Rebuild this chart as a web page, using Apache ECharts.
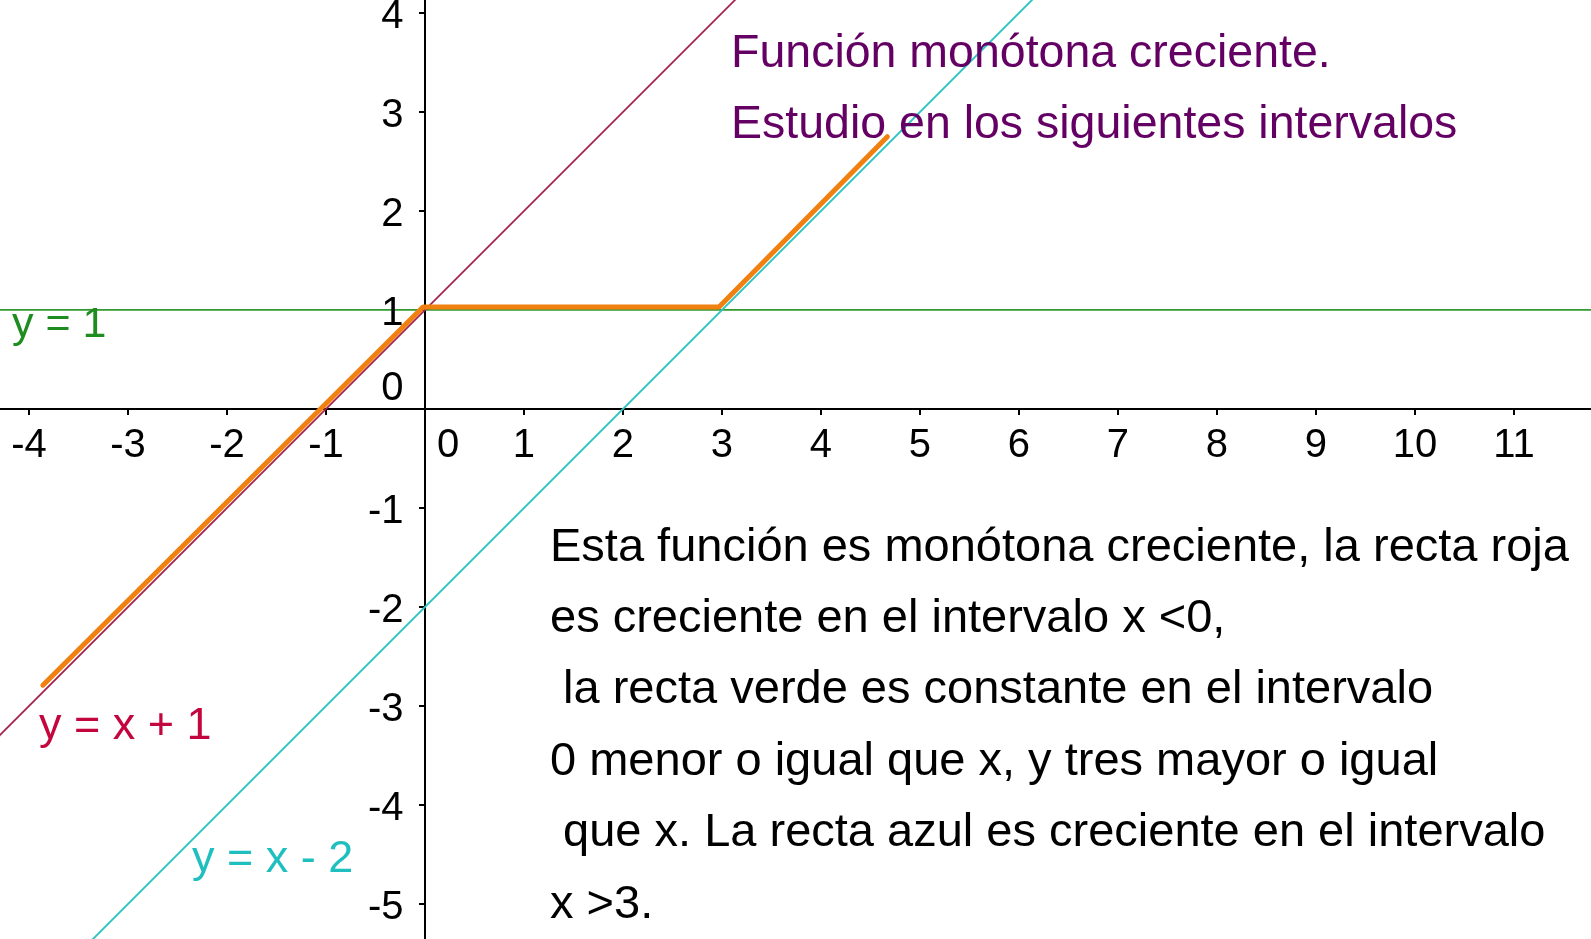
<!DOCTYPE html>
<html>
<head>
<meta charset="utf-8">
<script src="https://cdn.jsdelivr.net/npm/echarts@6/dist/echarts.min.js"></script>
<style>
html,body{margin:0;padding:0;background:#fff;}
#chart{width:1591px;height:939px;}
</style>
</head>
<body>
<div id="chart"></div>
<script>
// visible window of the plane
const xRange = [-4.293, 11.778];
const yRange = [-5.354, 4.131];
// tick labels
const xTicks = [-4, -3, -2, -1, 0, 1, 2, 3, 4, 5, 6, 7, 8, 9, 10, 11];
const yTicks = [-5, -4, -3, -2, -1, 0, 1, 2, 3, 4];
// line y = x + 1 (red)
const redX = [-5, 4];
const redY = [-4, 5];
// line y = x - 2 (cyan)
const cyanX = [-4, 7];
const cyanY = [-6, 5];
// line y = 1 (green)
const greenX = [-5, 12];
const greenY = [1, 1];
// piecewise function (orange)
const orangeX = [-3.86, -0.02, 2.97, 4.67];
const orangeY = [-2.79, 1.03, 1.03, 2.75];

const titleLines = ["Función monótona creciente.", "Estudio en los siguientes intervalos"];
const noteLines = [
  "Esta función es monótona creciente, la recta roja",
  "es creciente en el intervalo x <0,",
  " la recta verde es constante en el intervalo",
  "0 menor o igual que x, y tres mayor o igual",
  " que x. La recta azul es creciente en el intervalo",
  "x >3."
];
const labelRed = "y = x + 1";
const labelCyan = "y = x - 2";
const labelGreen = "y = 1";

const FONT = "'Liberation Sans', Arial, sans-serif";
const zip = (xs, ys) => xs.map((x, i) => [x, ys[i]]);

const tickLabelStyle = {show: true, color: '#000000', fontSize: 40, fontFamily: FONT, textBorderWidth: 0, opacity: 1};

const xLabelData = xTicks.map(v => v === 0
  ? {value: [v, 0], label: {offset: [23, 0]}}
  : {value: [v, 0]});
const yLabelData = yTicks.map(v => v === 0
  ? {value: [0, v], label: {offset: [0, -20]}}
  : {value: [0, v], label: {offset: [0, 4]}});

const chart = echarts.init(document.getElementById('chart'), null, {renderer: 'canvas'});
chart.setOption({
  animation: false,
  backgroundColor: '#ffffff',
  grid: {left: 0, right: 0, top: 0, bottom: 0, containLabel: false,
         outerBounds: {left: -300, right: -300, top: -300, bottom: -300}},
  xAxis: {
    type: 'value', min: xRange[0], max: xRange[1],
    axisLine: {onZero: true, lineStyle: {color: '#000', width: 2}},
    axisTick: {show: true, length: 6, customValues: xTicks, lineStyle: {color: '#000', width: 2}},
    splitLine: {show: false},
    axisLabel: {show: false}
  },
  yAxis: {
    type: 'value', min: yRange[0], max: yRange[1],
    axisLine: {onZero: true, lineStyle: {color: '#000', width: 2}},
    axisTick: {show: true, length: 6, customValues: yTicks, lineStyle: {color: '#000', width: 2}},
    splitLine: {show: false},
    axisLabel: {show: false}
  },
  series: [
    {type: 'line', data: zip(greenX, greenY), symbol: 'none', lineStyle: {color: '#2f9a2f', width: 1.7}, z: 2},
    {type: 'line', data: zip(redX, redY), symbol: 'none', lineStyle: {color: '#a3204c', width: 1.7}, z: 2},
    {type: 'line', data: zip(cyanX, cyanY), symbol: 'none', lineStyle: {color: '#2ec4c4', width: 1.9}, z: 2},
    {type: 'line', data: zip(orangeX, orangeY), symbol: 'none', lineStyle: {color: '#f08010', width: 5, cap: 'round', join: 'round'}, z: 3},
    {type: 'scatter', data: xLabelData, symbolSize: 1, itemStyle: {color: 'rgba(255,255,255,0)'}, silent: true, z: 5,
     label: Object.assign({}, tickLabelStyle, {position: 'bottom', distance: 17, formatter: p => String(p.value[0])})},
    {type: 'scatter', data: yLabelData, symbolSize: 1, itemStyle: {color: 'rgba(255,255,255,0)'}, silent: true, z: 5,
     label: Object.assign({}, tickLabelStyle, {position: 'left', distance: 21, formatter: p => String(p.value[1])})}
  ],
  graphic: [
    {type: 'text', z: 10, style: {x: 731, y: 19, text: titleLines.join('\n'), font: '46.5px ' + FONT, lineHeight: 71, fill: '#640064', verticalAlign: 'top'}},
    {type: 'text', z: 10, style: {x: 550, y: 512, text: noteLines.join('\n'), font: '47px ' + FONT, lineHeight: 71.4, fill: '#000', verticalAlign: 'top'}},
    {type: 'text', z: 10, style: {x: 12, y: 325, text: labelGreen, font: '43px ' + FONT, fill: '#1e8c1e', verticalAlign: 'middle'}},
    {type: 'text', z: 10, style: {x: 39, y: 727, text: labelRed, font: '45px ' + FONT, fill: '#c4063e', verticalAlign: 'middle'}},
    {type: 'text', z: 10, style: {x: 192, y: 860, text: labelCyan, font: '45px ' + FONT, fill: '#1fbfbf', verticalAlign: 'middle'}}
  ]
});
</script>
</body>
</html>
